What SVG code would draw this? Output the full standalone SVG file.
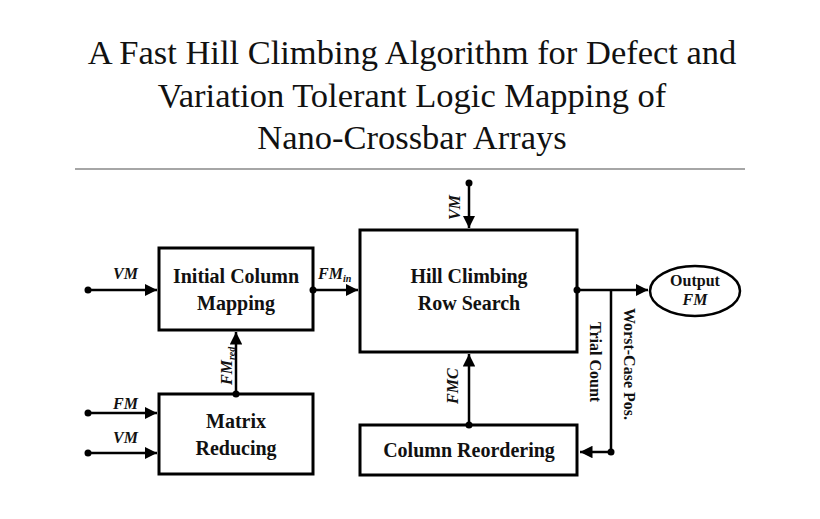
<svg xmlns="http://www.w3.org/2000/svg" width="820" height="519" viewBox="0 0 820 519">
<defs>
<marker id="a" viewBox="0 0 10 10" refX="10" refY="5" markerWidth="5" markerHeight="5" orient="auto"><path d="M0,0L10,5L0,10z" fill="#000"/></marker>
<style>
.t{font-family:"Liberation Serif",serif;font-size:34.5px;text-anchor:middle;fill:#111}
.b{font-family:"Liberation Serif",serif;font-weight:bold;font-size:20px;text-anchor:middle;fill:#111}
.l{font-family:"Liberation Serif",serif;font-weight:bold;font-style:italic;font-size:16px;fill:#111}
.s{font-family:"Liberation Serif",serif;font-weight:bold;font-size:16px;fill:#111}
.box{fill:none;stroke:#000;stroke-width:3}
.c{stroke:#000;stroke-width:2.5;fill:none}
</style>
</defs>
<rect width="820" height="519" fill="#fff"/>
<g id="title">
<text class="t" x="412" y="64">A Fast Hill Climbing Algorithm for Defect and</text>
<text class="t" x="412" y="107">Variation Tolerant Logic Mapping of</text>
<text class="t" x="412" y="149">Nano-Crossbar Arrays</text>
<line x1="75" y1="169" x2="745" y2="169" stroke="#888" stroke-width="1.5"/>
</g>
<g id="init"><rect class="box" x="159" y="248" width="154" height="82"/><text class="b" x="236" y="283">Initial Column</text><text class="b" x="236" y="310">Mapping</text></g>
<g id="hill"><rect class="box" x="360" y="230" width="217" height="122" stroke-width="4"/><text class="b" x="469" y="283">Hill Climbing</text><text class="b" x="469" y="310">Row Search</text></g>
<g id="matrix"><rect class="box" x="159" y="394" width="154" height="80"/><text class="b" x="236" y="428">Matrix</text><text class="b" x="236" y="455">Reducing</text></g>
<g id="reorder"><rect class="box" x="360" y="425" width="217" height="50"/><text class="b" x="469" y="457">Column Reordering</text></g>
<g id="output"><ellipse cx="695" cy="291" rx="45" ry="25" fill="none" stroke="#000" stroke-width="2.5"/><text class="s" x="695" y="286" text-anchor="middle">Output</text><text class="l" x="695" y="305" text-anchor="middle">FM</text></g>
<g id="connectors">
<line class="c" x1="88" y1="290" x2="157" y2="290" marker-end="url(#a)"/>
<line class="c" x1="313" y1="290" x2="358" y2="290" marker-end="url(#a)"/>
<line class="c" x1="577" y1="290" x2="648" y2="290" marker-end="url(#a)"/>
<polyline class="c" points="611,290 611,452 580,452" marker-end="url(#a)"/>
<line class="c" x1="469" y1="183" x2="469" y2="228" marker-end="url(#a)"/>
<line class="c" x1="469" y1="425" x2="469" y2="354" marker-end="url(#a)"/>
<line class="c" x1="236" y1="394" x2="236" y2="332" marker-end="url(#a)"/>
<line class="c" x1="88" y1="413" x2="157" y2="413" marker-end="url(#a)"/>
<line class="c" x1="88" y1="453" x2="157" y2="453" marker-end="url(#a)"/>
<g fill="#000"><circle cx="88" cy="290" r="3.5"/><circle cx="313" cy="290" r="3.5"/><circle cx="577" cy="290" r="3.5"/><circle cx="611" cy="452" r="3.5"/><circle cx="469" cy="183" r="3.5"/><circle cx="469" cy="425" r="3.5"/><circle cx="236" cy="394" r="3.5"/><circle cx="88" cy="413" r="3.5"/><circle cx="88" cy="453" r="3.5"/></g>
<text class="l" x="113" y="279">VM</text>
<text class="l" x="318" y="279">FM<tspan font-size="10" dy="3">in</tspan></text>
<text class="l" x="113" y="409">FM</text>
<text class="l" x="113" y="443">VM</text>
<text class="l" transform="translate(460,220) rotate(-90)">VM</text>
<text class="l" transform="translate(458,404) rotate(-90)">FMC</text>
<text class="l" transform="translate(232,385) rotate(-90)">FM<tspan font-size="10" dy="3">red</tspan></text>
<text class="s" transform="translate(624,308) rotate(90)">Worst-Case Pos.</text>
<text class="s" transform="translate(590,322) rotate(90)">Trial Count</text>
</g>
</svg>
